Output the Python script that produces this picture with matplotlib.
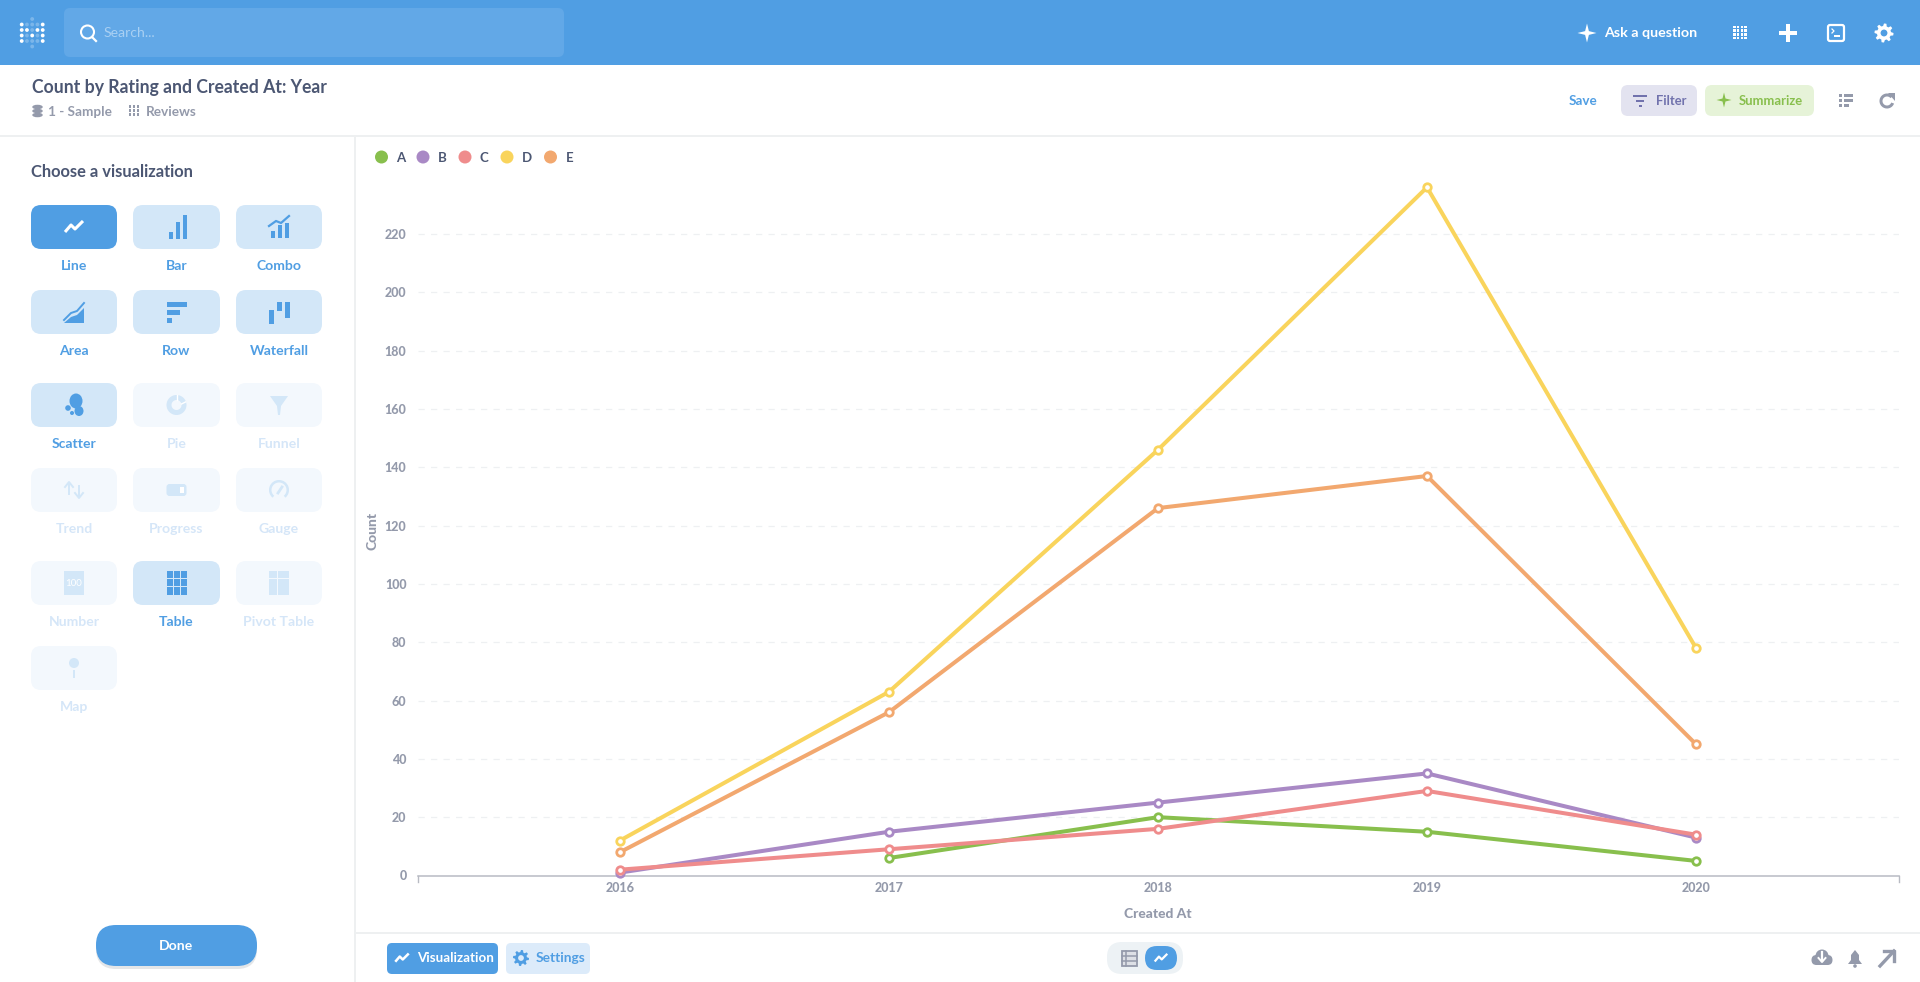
#!/usr/bin/env python
# -*- coding: utf-8 -*-
""" Metabase question screen: yearly review count by rating """

import matplotlib
matplotlib.use("Agg")
import matplotlib.pyplot as plt
import numpy as np
from matplotlib.patches import Circle, Ellipse, FancyBboxPatch, Polygon, Rectangle, Wedge

plt.rcParams["font.family"] = ["Lato", "DejaVu Sans"]

W, H = 1920, 982

years = [2016, 2017, 2018, 2019, 2020]
rating_a = [None, 6, 20, 15, 5]
rating_b = [1, 15, 25, 35, 13]
rating_c = [2, 9, 16, 29, 14]
rating_d = [12, 63, 146, 236, 78]
rating_e = [8, 56, 126, 137, 45]
series_names = ["A", "B", "C", "D", "E"]
series_colors = ["#88BF4D", "#A989C5", "#EF8C8C", "#F9D45C", "#F2A86F"]
y_ticks = list(range(0, 240, 20))

viz_names = [["Line", "Bar", "Combo"], ["Area", "Row", "Waterfall"],
             ["Scatter", "Pie", "Funnel"], ["Trend", "Progress", "Gauge"],
             ["Number", "Table", "Pivot Table"], ["Map"]]
viz_enabled = ["Line", "Bar", "Combo", "Area", "Row", "Waterfall", "Scatter", "Table"]

BLUE = "#509EE3"
SOFT = "#D3E7F8"
FAINT = "#F3F8FD"
FAINT_TXT = "#D5E6F8"
DARK = "#4C5773"
GREY = "#949AAB"
LINE = "#EEF0F1"

fig = plt.figure(figsize=(W / 100, H / 100), dpi=100, facecolor="white")
ui = fig.add_axes([0, 0, 1, 1])
ui.set_xlim(0, W)
ui.set_ylim(H, 0)
ui.axis("off")


def box(x0, y0, x1, y1, color, r=6, z=2, alpha=None):
    ui.add_patch(FancyBboxPatch((x0, y0), x1 - x0, y1 - y0, boxstyle="round,pad=0,rounding_size=%s" % r,
                                fc=color, ec="none", zorder=z, alpha=alpha))


def rect(x, y, w, h, color, z=4):
    ui.add_patch(Rectangle((x, y), w, h, fc=color, ec="none", zorder=z))


def label(x, y, s, px, color=DARK, weight="bold", ha="left", **kw):
    ui.text(x, y, s, fontsize=px * 0.72, color=color, fontweight=weight, ha=ha, va="center_baseline", zorder=6, **kw)


def sparkle(cx, cy, r, color):
    ang = np.arange(8) * np.pi / 4
    rad = np.where(np.arange(8) % 2 == 0, r, r * 0.28)
    ui.add_patch(Polygon(np.c_[cx + rad * np.cos(ang), cy + rad * np.sin(ang)], fc=color, ec="none", zorder=5))


def gear(cx, cy, r, color, hole="white"):
    ang = np.linspace(0, 2 * np.pi, 48, endpoint=False)
    rad = np.where(np.arange(48) % 6 < 3, r, r * 0.74)
    ui.add_patch(Polygon(np.c_[cx + rad * np.cos(ang), cy + rad * np.sin(ang)], fc=color, ec="none", zorder=5))
    ui.add_patch(Circle((cx, cy), r * 0.36, fc=hole, ec="none", zorder=6))


def dot_grid(cx, cy, size, n, color):
    step = size / n
    for i in range(n):
        for j in range(n):
            rect(cx - size / 2 + i * step, cy - size / 2 + j * step, step * 0.72, step * 0.72, color, z=5)


def zig(cx, cy, color, s=1.0, lw=2.2):
    ui.plot([cx - 9 * s, cx - 3 * s, cx + 1 * s, cx + 9 * s], [cy + 5 * s, cy - 2 * s, cy + 2 * s, cy - 6 * s],
            color=color, lw=lw, solid_capstyle="butt", zorder=5)


def viz_icon(name, cx, cy, c):
    if name == "Line":
        zig(cx, cy, c)
    elif name == "Bar":
        for dx, h in [(-8, 7), (-1, 17), (6, 24)]:
            rect(cx + dx, cy + 12 - h, 4, h, c)
    elif name == "Combo":
        for dx, h in [(-8, 7), (-1, 13), (6, 15)]:
            rect(cx + dx, cy + 11 - h, 4, h, c)
        ui.plot([cx - 10, cx - 3, cx + 2, cx + 10], [cy - 1, cy - 6, cy - 4, cy - 11], color=c, lw=1.6, zorder=5)
    elif name == "Area":
        ui.add_patch(Polygon([(cx - 10, cy + 11), (cx - 3, cy + 5), (cx + 3, cy + 3), (cx + 10, cy - 4),
                              (cx + 10, cy + 11)], fc=c, ec="none", zorder=5))
        ui.plot([cx - 10, cx - 3, cx + 3, cx + 10], [cy + 8, cy + 1, cy - 1, cy - 9], color=c, lw=1.4, zorder=5)
    elif name == "Row":
        rect(cx - 10, cy - 10, 20, 5, c)
        rect(cx - 10, cy - 2, 13, 5, c)
        rect(cx - 10, cy + 6, 5, 5, c)
    elif name == "Waterfall":
        rect(cx - 10, cy - 2, 5, 14, c)
        rect(cx - 2, cy - 10, 5, 9, c)
        rect(cx + 6, cy - 10, 5, 16, c)
    elif name == "Scatter":
        ui.add_patch(Ellipse((cx + 2, cy - 4), 13, 15, fc=c, ec="none", zorder=5))
        ui.add_patch(Ellipse((cx + 5, cy + 6), 9, 10, fc=c, ec="none", zorder=5))
        ui.add_patch(Circle((cx - 6, cy + 3), 2.8, fc=c, ec="none", zorder=5))
        ui.add_patch(Circle((cx - 2, cy + 8), 2, fc=c, ec="none", zorder=5))
    elif name == "Pie":
        ui.add_patch(Wedge((cx, cy), 10, 0, 360, width=5, fc=c, ec="none", zorder=5))
        ui.plot([cx, cx], [cy - 10, cy - 5], color="white", lw=1, zorder=6)
        ui.plot([cx + 5, cx + 9], [cy - 1, cy - 3], color="white", lw=1, zorder=6)
    elif name == "Funnel":
        ui.add_patch(Polygon([(cx - 9, cy - 9), (cx + 9, cy - 9), (cx + 2, cy + 1), (cx + 1, cy + 10), (cx - 1, cy + 10),
                              (cx - 2, cy + 1)], fc=c, ec="none", zorder=5))
    elif name == "Trend":
        ui.plot([cx - 5, cx - 5], [cy - 7, cy + 4], color=c, lw=1.4, zorder=5)
        ui.plot([cx - 9, cx - 5, cx - 1], [cy - 3, cy - 8, cy - 3], color=c, lw=1.4, zorder=5)
        ui.plot([cx + 5, cx + 5], [cy - 4, cy + 7], color=c, lw=1.4, zorder=5)
        ui.plot([cx + 1, cx + 5, cx + 9], [cy + 3, cy + 8, cy + 3], color=c, lw=1.4, zorder=5)
    elif name == "Progress":
        box(cx - 10, cy - 6, cx + 10, cy + 6, c, r=3, z=5)
        rect(cx + 3, cy - 3, 4, 6, "white", z=6)
    elif name == "Gauge":
        ui.add_patch(Wedge((cx, cy), 10, 130, 50, width=2.5, fc=c, ec="none", zorder=5))
        ui.plot([cx - 1, cx + 3], [cy + 3, cy - 3], color=c, lw=2, zorder=5)
    elif name == "Number":
        rect(cx - 10, cy - 12, 20, 24, c)
        ui.text(cx, cy, "100", fontsize=7, color="white", ha="center", va="center", zorder=6)
    elif name == "Table":
        for i in range(3):
            for j in range(3):
                rect(cx - 10 + i * 7, cy - 12 + j * 8.2, 6, 7.2, c)
    elif name == "Pivot Table":
        rect(cx - 10, cy - 12, 8, 7, c)
        rect(cx - 1, cy - 12, 11, 7, c)
        rect(cx - 10, cy - 4, 8, 16, c)
        rect(cx - 1, cy - 4, 11, 16, c)
    elif name == "Map":
        ui.add_patch(Circle((cx, cy - 5), 5, fc=c, ec="none", zorder=5))
        rect(cx - 1, cy + 2, 2, 8, c)


# top bar
rect(0, 0, W, 65, BLUE, z=1)
box(64, 8, 564, 57, "#62A8E7", r=6)
ui.add_patch(Circle((87.5, 32), 6.5, fc="none", ec="white", lw=1.5, zorder=5))
ui.plot([92, 96], [37, 41], color="white", lw=1.6, zorder=5)
label(104, 32, "Search...", 14, color="#A9D0F3", weight="normal")

# logo: five columns of dots with the M picked out in white
logo_bright = {(0, 1), (0, 2), (0, 3), (0, 4), (4, 1), (4, 2), (4, 3), (4, 4), (1, 2), (3, 2), (2, 3)}
for i in range(5):
    for j in range(6):
        if (j == 0 or j == 5) and i != 2:
            continue
        on = (i, j) in logo_bright
        ui.add_patch(Circle((21.7 + i * 5.25, 19 + j * 5.5), 1.9, fc="white", ec="none",
                            alpha=1 if on else 0.25, zorder=5))

sparkle(1587, 33, 9.5, "white")
label(1604, 32, "Ask a question", 14.2, color="white")
dot_grid(1740.5, 33, 15, 4, "white")
rect(1779, 31, 18, 4, "white")
rect(1786, 24, 4, 18, "white")
ui.add_patch(FancyBboxPatch((1828, 25), 16, 16, boxstyle="round,pad=0,rounding_size=2", fc="none", ec="white", lw=1.6, zorder=5))
ui.plot([1832, 1834, 1832], [29, 31, 33], color="white", lw=0.9, zorder=5)
rect(1834, 35, 6, 1.5, "white")
gear(1884, 33, 9.5, "white", hole=BLUE)

# question header
label(32, 86, "Count by Rating and Created At: Year", 17.6, color=DARK)
for dy in (-4, 0, 4):
    ui.add_patch(Ellipse((37.5, 111 + dy), 10.5, 4.5, fc=GREY, ec="none", zorder=4))
label(48, 111, "1 - Sample", 13.6, color=GREY)
dot_grid(134.5, 111, 12, 3, GREY)
label(146, 111, "Reviews", 13.6, color=GREY)
label(1583, 100, "Save", 13.5, color=BLUE, ha="center")
box(1621, 85, 1697, 116, "#E3E3F0", r=7)
rect(1633, 95, 14, 2.4, "#7172AD")
rect(1636, 100, 8, 2.4, "#7172AD")
rect(1638.5, 105, 3.5, 2.4, "#7172AD")
label(1656, 100, "Filter", 13, color="#7172AD")
box(1705, 85, 1814, 116, "#E6F3D8", r=7)
sparkle(1724, 100, 7.5, "#88BF4D")
label(1739, 100, "Summarize", 13, color="#88BF4D")
for dy, w in [(-5, 9), (0, 9), (5, 5)]:
    rect(1839, 100 + dy - 1.5, 3, 3, GREY)
    rect(1844, 100 + dy - 1.5, w, 3, GREY)
ui.add_patch(Wedge((1887, 101), 7.5, 20, 320, width=3, fc=GREY, ec="none", zorder=5))
ui.add_patch(Polygon([(1888, 93), (1895, 93), (1895, 101)], fc=GREY, ec="none", zorder=5))

# dividers
ui.plot([0, W], [136, 136], color=LINE, lw=1.4, zorder=1)
ui.plot([355, 355], [136, H], color=LINE, lw=1.4, zorder=1)
ui.plot([355, W], [933, 933], color=LINE, lw=1.4, zorder=1)

# chart picker
label(31, 170, "Choose a visualization", 16.5, color=DARK)
col_x = [(31, 117), (133, 220), (236, 322)]
row_y = [(205, 249, 265), (290, 334, 350), (383, 427, 443), (468, 512, 528), (561, 605, 621), (646, 690, 706)]
for names, (y0, y1, ly) in zip(viz_names, row_y):
    for name, (x0, x1) in zip(names, col_x):
        cx, cy = (x0 + x1) / 2, (y0 + y1) / 2
        on = name in viz_enabled
        box(x0, y0, x1, y1, BLUE if name == "Line" else (SOFT if on else FAINT), r=10)
        viz_icon(name, cx, cy, "white" if name == "Line" else (BLUE if on else SOFT))
        label(cx, ly, name, 14, color=BLUE if on else FAINT_TXT, ha="center")

box(96, 927, 257, 969, "#E4E6E8", r=20, z=1)
box(96, 925, 257, 966, BLUE, r=20)
label(176.5, 945, "Done", 14, color="white", ha="center")

# footer
box(387, 943, 498, 974, BLUE, r=5)
zig(402, 958, "white", s=0.75, lw=1.8)
label(417, 957, "Visualization", 13.4, color="white")
box(506, 943, 590, 974, "#DCEBFA", r=5)
gear(521, 958, 8, BLUE, hole="#DCEBFA")
label(536, 957, "Settings", 13.8, color=BLUE)
box(1107, 942, 1183, 974, "#EDF2F5", r=15)

# table/chart toggle
ui.add_patch(Rectangle((1121.5, 950.5), 15, 15, fc="#DDE0E6", ec=GREY, lw=1.3, zorder=4))
ui.plot([1125.5, 1125.5], [950.5, 965.5], color=GREY, lw=1.1, zorder=5)
for gy in (955.5, 960.5):
    ui.plot([1121.5, 1136.5], [gy, gy], color=GREY, lw=1.1, zorder=5)
box(1145, 946, 1177, 970, BLUE, r=12, z=4)
zig(1161, 958, "white", s=0.7, lw=1.6)

# download, bell, expand
ui.add_patch(Circle((1822, 956), 6.5, fc=GREY, ec="none", zorder=4))
box(1811.5, 955, 1832.5, 965, GREY, r=5, z=4)
ui.plot([1822, 1822], [952, 961], color="white", lw=1.6, zorder=5)
ui.plot([1818.5, 1822, 1825.5], [958, 962, 958], color="white", lw=1.4, zorder=5)
ui.add_patch(Polygon([(1848, 964), (1851, 960), (1851, 955), (1855, 950), (1859, 955), (1859, 960), (1862, 964)],
                     fc=GREY, ec="none", zorder=4))
ui.add_patch(Circle((1855, 966), 1.8, fc=GREY, ec="none", zorder=4))
ui.plot([1880, 1894], [966, 951], color=GREY, lw=2.4, zorder=4)
ui.plot([1884, 1894, 1894], [951, 951, 961], color=GREY, lw=2.4, zorder=4)

# the chart itself, placed so its scales land on the reference pixels
left, right, top, bottom = 417.5, 1899, 150, 875.5
ax = fig.add_axes([left / W, 1 - bottom / H, (right - left) / W, (bottom - top) / H], facecolor="none")
ax.set_xlim(2016 - 202.5 / 269, 2020 + 203 / 269)
ax.set_ylim(0, (bottom - top) / 2.916)

for name, vals, col in zip(series_names, [rating_a, rating_b, rating_c, rating_d, rating_e], series_colors):
    xs = [x for x, v in zip(years, vals) if v is not None]
    ys = [v for v in vals if v is not None]
    ax.plot(xs, ys, color=col, lw=2.9, marker="o", ms=5.4, mfc="white", mec=col, mew=2, clip_on=False,
            solid_joinstyle="round", zorder=3)

for s in ("top", "right", "left"):
    ax.spines[s].set_visible(False)
ax.spines["bottom"].set_color("#B8BBC3")
ax.spines["bottom"].set_linewidth(1.1)
ax.set_xticks(years, [str(y) for y in years])
ax.set_yticks(y_ticks, [str(t) for t in y_ticks])
ax.tick_params(axis="x", length=0, pad=5, labelsize=9, labelcolor=GREY)
ax.tick_params(axis="y", length=0, pad=8, labelsize=9, labelcolor=GREY)
for t in ax.get_xticklabels() + ax.get_yticklabels():
    t.set_fontweight("black")
ax.set_axisbelow(True)
ax.grid(axis="y", color="#EEF0F2", lw=0.9, ls=(0, (5, 5)))
ax.yaxis.get_gridlines()[0].set_visible(False)
ui.plot([left, left], [875.5, 881.5], color="#B8BBC3", lw=1, zorder=1)
ui.plot([right, right], [875.5, 881.5], color="#B8BBC3", lw=1, zorder=1)

ui.text(1158, 914, "Created At", fontsize=10, color=GREY, fontweight="black", ha="center", va="center", zorder=6)
ui.text(372.5, 531, "Count", fontsize=10, color=GREY, fontweight="black", rotation=90, ha="center", va="center", zorder=6)

legend_x = [381.5, 423, 465, 507, 550.5]
for name, col, lx in zip(series_names, series_colors, legend_x):
    ui.add_patch(Circle((lx, 157), 6.5, fc=col, ec="none", zorder=5))
    label(lx + 15, 157, name, 13.2, color=DARK)

fig.savefig("out.png", dpi=100)
